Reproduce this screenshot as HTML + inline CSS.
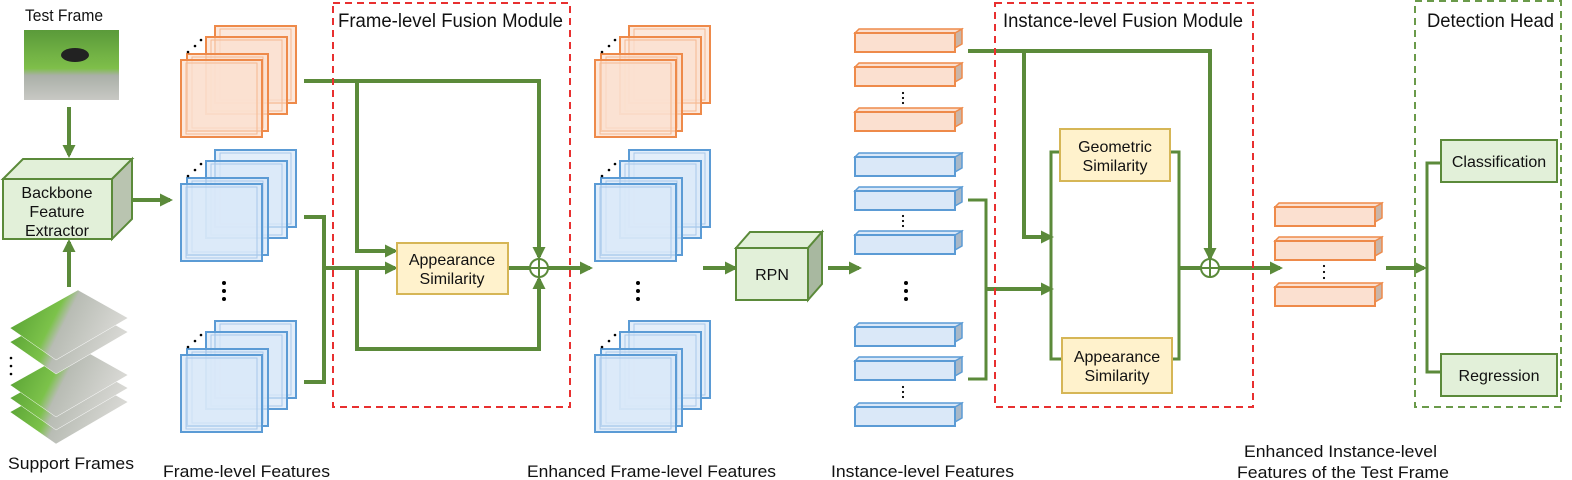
<!DOCTYPE html>
<html><head><meta charset="utf-8"><style>
html,body{margin:0;padding:0;background:#fff}
svg{display:block}
text{font-family:"Liberation Sans",sans-serif;fill:#111}
</style></head><body>
<svg width="1572" height="480" viewBox="0 0 1572 480" xmlns="http://www.w3.org/2000/svg">
<defs>
<marker id="ar" markerWidth="13" markerHeight="13" refX="10" refY="6.5" orient="auto" markerUnits="userSpaceOnUse">
<path d="M0,0 L13,6.5 L0,13 Z" fill="#5b8a3a"/></marker>
<linearGradient id="photo" x1="0" y1="0" x2="0" y2="1">
<stop offset="0" stop-color="#5a9a3a"/><stop offset="0.55" stop-color="#7fbf4a"/><stop offset="0.65" stop-color="#aab0a8"/><stop offset="1" stop-color="#c8c8c4"/></linearGradient>
<linearGradient id="sup" x1="0" y1="0" x2="1" y2="0.3">
<stop offset="0" stop-color="#4f9a2e"/><stop offset="0.45" stop-color="#7cc24a"/><stop offset="0.55" stop-color="#b8bcb4"/><stop offset="1" stop-color="#d8d8d4"/></linearGradient>
<g id="osq"><rect x="0" y="0" width="81" height="77" fill="#fbe0d0" fill-opacity="0.75" stroke="#ee8a4a" stroke-width="2"/><rect x="5" y="3" width="71" height="71" fill="none" stroke="#f6b890" stroke-width="1"/></g>
<g id="bsq"><rect x="0" y="0" width="81" height="77" fill="#dae8f8" fill-opacity="0.75" stroke="#5b9bd5" stroke-width="2"/><rect x="5" y="3" width="71" height="71" fill="none" stroke="#a8c8ea" stroke-width="1"/></g>
<g id="ostack">
<use href="#osq" x="34" y="-34"/><use href="#osq" x="25" y="-23"/><use href="#osq" x="6" y="-6"/><use href="#osq" x="0" y="0"/>
<circle cx="7" cy="-8" r="1.3" fill="#000"/><circle cx="14" cy="-14" r="1.3" fill="#000"/><circle cx="20" cy="-20" r="1.3" fill="#000"/>
</g>
<g id="bstack">
<use href="#bsq" x="34" y="-34"/><use href="#bsq" x="25" y="-23"/><use href="#bsq" x="6" y="-6"/><use href="#bsq" x="0" y="0"/>
<circle cx="7" cy="-8" r="1.3" fill="#000"/><circle cx="14" cy="-14" r="1.3" fill="#000"/><circle cx="20" cy="-20" r="1.3" fill="#000"/>
</g>
<g id="obar"><path d="M0,4 L4,0 L107,0 L103,4 Z" fill="#fbe0d0" stroke="#ee8a4a" stroke-width="1.5"/><path d="M100,4 L107,0 L107,15 L100,19 Z" fill="#c9b5a8" stroke="#ee8a4a" stroke-width="1.5"/><rect x="0" y="4" width="100" height="19" fill="#fbe0d0" stroke="#ee8a4a" stroke-width="2"/></g>
<g id="bbar"><path d="M0,4 L4,0 L107,0 L103,4 Z" fill="#dae8f8" stroke="#5b9bd5" stroke-width="1.5"/><path d="M100,4 L107,0 L107,15 L100,19 Z" fill="#a8b8c8" stroke="#5b9bd5" stroke-width="1.5"/><rect x="0" y="4" width="100" height="19" fill="#dae8f8" stroke="#5b9bd5" stroke-width="2"/></g>
<g id="layer"><path d="M0,0 L68,-38 L118,-10 L46,32 Z" fill="url(#sup)" stroke="#fff" stroke-width="0.5"/></g>
</defs>

<!-- Test frame -->
<text x="25" y="21" font-size="17" textLength="78" lengthAdjust="spacingAndGlyphs">Test  Frame</text>
<rect x="24" y="30" width="95" height="70" fill="url(#photo)"/>
<ellipse cx="75" cy="55" rx="14" ry="7" fill="#222"/>
<line x1="69" y1="107" x2="69" y2="155" stroke="#5b8a3a" stroke-width="4" marker-end="url(#ar)"/>

<!-- Backbone -->
<path d="M3,179 L23,159 L132,159 L112,179 Z" fill="#e2f0d9" stroke="#5b8a3a" stroke-width="2"/>
<path d="M112,179 L132,159 L132,219 L112,239 Z" fill="#b9c4b0" stroke="#5b8a3a" stroke-width="2"/>
<rect x="3" y="179" width="109" height="60" fill="#e2f0d9" stroke="#5b8a3a" stroke-width="2"/>
<text x="57" y="198" font-size="16" text-anchor="middle">Backbone</text>
<text x="57" y="217" font-size="16" text-anchor="middle">Feature</text>
<text x="57" y="236" font-size="16" text-anchor="middle">Extractor</text>
<line x1="132" y1="200" x2="170" y2="200" stroke="#5b8a3a" stroke-width="4" marker-end="url(#ar)"/>
<line x1="69" y1="287" x2="69" y2="242" stroke="#5b8a3a" stroke-width="4" marker-end="url(#ar)"/>

<!-- Support frames -->
<use href="#layer" x="10" y="412"/><use href="#layer" x="10" y="398"/><use href="#layer" x="10" y="385"/><use href="#layer" x="10" y="342"/><use href="#layer" x="10" y="328"/>
<circle cx="11" cy="358" r="1.3" fill="#000"/><circle cx="11" cy="366" r="1.3" fill="#000"/><circle cx="11" cy="374" r="1.3" fill="#000"/>
<text x="8" y="469" font-size="17" textLength="126" lengthAdjust="spacingAndGlyphs">Support Frames</text>

<!-- Frame-level features -->
<use href="#ostack" x="181" y="60"/>
<use href="#bstack" x="181" y="184"/>
<use href="#bstack" x="181" y="355"/>
<circle cx="224" cy="283" r="2" fill="#000"/><circle cx="224" cy="291" r="2" fill="#000"/><circle cx="224" cy="299" r="2" fill="#000"/>
<text x="163" y="477" font-size="17" textLength="167" lengthAdjust="spacingAndGlyphs">Frame-level Features</text>

<!-- Frame-level fusion -->
<g stroke="#5b8a3a" stroke-width="4" fill="none">
<polyline points="304,81 539,81 539,257" marker-end="url(#ar)"/>
<polyline points="357,81 357,251 395,251" marker-end="url(#ar)"/>
<polyline points="304,217 324,217 324,382 304,382"/>
<line x1="324" y1="268" x2="395" y2="268" marker-end="url(#ar)"/>
<polyline points="357,268 357,349 539,349 539,279" marker-end="url(#ar)"/>
<line x1="508" y1="268" x2="530" y2="268"/>
<line x1="548" y1="268" x2="590" y2="268" marker-end="url(#ar)"/>
</g>
<circle cx="539" cy="268" r="9" fill="#fff" stroke="#5b8a3a" stroke-width="2"/>
<line x1="530" y1="268" x2="548" y2="268" stroke="#5b8a3a" stroke-width="2"/><line x1="539" y1="259" x2="539" y2="277" stroke="#5b8a3a" stroke-width="2"/>
<rect x="397" y="243" width="111" height="51" fill="#fff2cc" stroke="#d6b656" stroke-width="2"/>
<text x="452" y="265" font-size="16" text-anchor="middle">Appearance</text>
<text x="452" y="284" font-size="16" text-anchor="middle">Similarity</text>
<rect x="333" y="3" width="237" height="404" fill="none" stroke="#e83030" stroke-width="2" stroke-dasharray="7,5"/>
<text x="338" y="27" font-size="19" textLength="225" lengthAdjust="spacingAndGlyphs">Frame-level Fusion Module</text>

<!-- Enhanced frame features -->
<use href="#ostack" x="595" y="60"/>
<use href="#bstack" x="595" y="184"/>
<use href="#bstack" x="595" y="355"/>
<circle cx="638" cy="283" r="2" fill="#000"/><circle cx="638" cy="291" r="2" fill="#000"/><circle cx="638" cy="299" r="2" fill="#000"/>
<text x="527" y="477" font-size="17" textLength="249" lengthAdjust="spacingAndGlyphs">Enhanced Frame-level Features</text>

<!-- RPN -->
<line x1="703" y1="268" x2="735" y2="268" stroke="#5b8a3a" stroke-width="4" marker-end="url(#ar)"/>
<path d="M736,248 L750,232 L822,232 L808,248 Z" fill="#e2f0d9" stroke="#5b8a3a" stroke-width="2"/>
<path d="M808,248 L822,232 L822,284 L808,300 Z" fill="#a8b8a0" stroke="#5b8a3a" stroke-width="2"/>
<rect x="736" y="248" width="72" height="52" fill="#e2f0d9" stroke="#5b8a3a" stroke-width="2"/>
<text x="772" y="280" font-size="16" text-anchor="middle">RPN</text>
<line x1="828" y1="268" x2="859" y2="268" stroke="#5b8a3a" stroke-width="4" marker-end="url(#ar)"/>

<!-- Instance-level features -->
<use href="#obar" x="855" y="29"/><use href="#obar" x="855" y="63"/><use href="#obar" x="855" y="108"/>
<use href="#bbar" x="855" y="153"/><use href="#bbar" x="855" y="187"/><use href="#bbar" x="855" y="231"/>
<use href="#bbar" x="855" y="323"/><use href="#bbar" x="855" y="357"/><use href="#bbar" x="855" y="403"/>
<g fill="#000">
<circle cx="903" cy="93" r="1.1"/><circle cx="903" cy="98" r="1.1"/><circle cx="903" cy="103" r="1.1"/>
<circle cx="903" cy="216" r="1.1"/><circle cx="903" cy="221" r="1.1"/><circle cx="903" cy="226" r="1.1"/>
<circle cx="903" cy="387" r="1.1"/><circle cx="903" cy="392" r="1.1"/><circle cx="903" cy="397" r="1.1"/>
<circle cx="906" cy="283" r="2"/><circle cx="906" cy="291" r="2"/><circle cx="906" cy="299" r="2"/>
</g>
<text x="831" y="477" font-size="17" textLength="183" lengthAdjust="spacingAndGlyphs">Instance-level Features</text>

<!-- Instance-level fusion -->
<g stroke="#5b8a3a" fill="none">
<polyline points="968,51 1210,51 1210,258" stroke-width="4" marker-end="url(#ar)"/>
<polyline points="1024,51 1024,237 1051,237" stroke-width="4" marker-end="url(#ar)"/>
<polyline points="968,200 986,200 986,379 968,379" stroke-width="3"/>
<line x1="986" y1="289" x2="1051" y2="289" stroke-width="4" marker-end="url(#ar)"/>
<polyline points="1060,152 1051,152 1051,359 1062,359" stroke-width="3"/>
<polyline points="1170,152 1179,152 1179,359 1172,359" stroke-width="3"/>
<line x1="1179" y1="268" x2="1201" y2="268" stroke-width="4"/>
<line x1="1219" y1="268" x2="1280" y2="268" stroke-width="4" marker-end="url(#ar)"/>
</g>
<circle cx="1210" cy="268" r="9" fill="#fff" stroke="#5b8a3a" stroke-width="2"/>
<line x1="1201" y1="268" x2="1219" y2="268" stroke="#5b8a3a" stroke-width="2"/><line x1="1210" y1="259" x2="1210" y2="277" stroke="#5b8a3a" stroke-width="2"/>
<rect x="1060" y="129" width="110" height="52" fill="#fff2cc" stroke="#d6b656" stroke-width="2"/>
<text x="1115" y="152" font-size="16" text-anchor="middle">Geometric</text>
<text x="1115" y="171" font-size="16" text-anchor="middle">Similarity</text>
<rect x="1062" y="338" width="110" height="55" fill="#fff2cc" stroke="#d6b656" stroke-width="2"/>
<text x="1117" y="362" font-size="16" text-anchor="middle">Appearance</text>
<text x="1117" y="381" font-size="16" text-anchor="middle">Similarity</text>
<rect x="995" y="3" width="258" height="404" fill="none" stroke="#e83030" stroke-width="2" stroke-dasharray="7,5"/>
<text x="1003" y="27" font-size="19" textLength="240" lengthAdjust="spacingAndGlyphs">Instance-level Fusion Module</text>

<!-- Enhanced instance features -->
<use href="#obar" x="1275" y="203"/><use href="#obar" x="1275" y="237"/><use href="#obar" x="1275" y="283"/>
<g fill="#000"><circle cx="1324" cy="266" r="1.1"/><circle cx="1324" cy="272" r="1.1"/><circle cx="1324" cy="278" r="1.1"/></g>
<text x="1244" y="457" font-size="17" textLength="193" lengthAdjust="spacingAndGlyphs">Enhanced Instance-level</text>
<text x="1237" y="478" font-size="17" textLength="212" lengthAdjust="spacingAndGlyphs">Features of the Test Frame</text>

<!-- Detection head -->
<line x1="1386" y1="268" x2="1424" y2="268" stroke="#5b8a3a" stroke-width="4" marker-end="url(#ar)"/>
<polyline points="1441,163 1427,163 1427,372 1441,372" stroke="#5b8a3a" stroke-width="3" fill="none"/>
<rect x="1441" y="140" width="116" height="42" fill="#e2f0d9" stroke="#5b8a3a" stroke-width="2"/>
<text x="1499" y="167" font-size="16" text-anchor="middle">Classification</text>
<rect x="1441" y="354" width="116" height="42" fill="#e2f0d9" stroke="#5b8a3a" stroke-width="2"/>
<text x="1499" y="381" font-size="16" text-anchor="middle">Regression</text>
<rect x="1415" y="1" width="146" height="406" fill="none" stroke="#6a9a4a" stroke-width="2" stroke-dasharray="7,5"/>
<text x="1427" y="27" font-size="19" textLength="127" lengthAdjust="spacingAndGlyphs">Detection Head</text>
</svg>
</body></html>
